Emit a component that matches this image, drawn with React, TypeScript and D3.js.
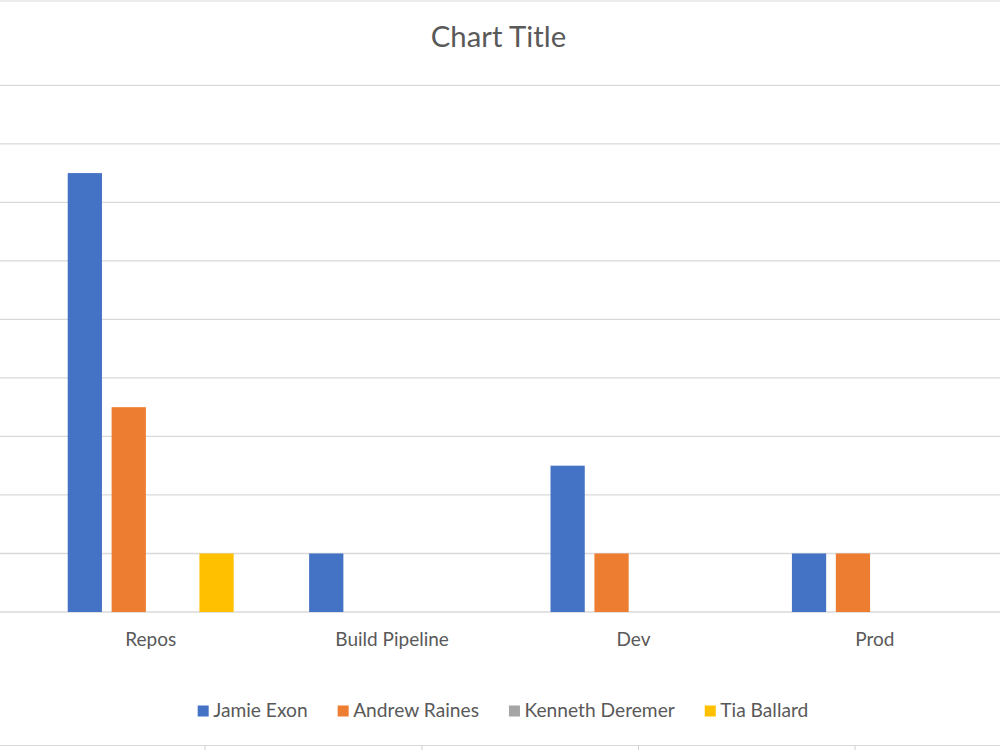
import { useEffect, useRef } from 'react';
import * as d3 from 'd3';

const categories = ['Repos', 'Build Pipeline', 'Dev', 'Prod'];
const seriesNames = ['Jamie Exon', 'Andrew Raines', 'Kenneth Deremer', 'Tia Ballard'];
const jamieExon = [7.5, 1, 2.5, 1];
const andrewRaines = [3.5, 0, 1, 1];
const kennethDeremer = [0, 0, 0, 0];
const tiaBallard = [1, 0, 0, 0];
const gridValues = [0, 1, 2, 3, 4, 5, 6, 7, 8, 9];
const seriesColors = ['#4472C4', '#ED7D31', '#A5A5A5', '#FFC000'];

const WIDTH = 1000;
const HEIGHT = 750;
const FONT = "Lato, 'Open Sans', sans-serif";
const TEXT_COLOR = '#595959';
const GRID_COLOR = '#D9D9D9';

export default function App() {
  const svgRef = useRef<SVGSVGElement>(null);

  useEffect(() => {
    if (!svgRef.current) return;
    const svg = d3.select(svgRef.current);
    svg.selectAll('*').remove();

    const seriesValues = [jamieExon, andrewRaines, kennethDeremer, tiaBallard];

    const x0 = d3
      .scaleBand<string>()
      .domain(categories)
      .range([30, 995.6])
      .paddingInner(0.3125)
      .paddingOuter(0.15625);

    const x1 = d3
      .scaleBand<string>()
      .domain(seriesNames)
      .range([0, x0.bandwidth()])
      .paddingInner(0.22);

    const y = d3.scaleLinear().domain([0, 9]).range([612, 85.3]);

    svg
      .append('rect')
      .attr('width', WIDTH)
      .attr('height', HEIGHT)
      .attr('fill', '#fff');

    // chart frame edges and the sheet cells below it
    svg
      .append('line')
      .attr('x1', 0)
      .attr('x2', WIDTH)
      .attr('y1', 1)
      .attr('y2', 1)
      .attr('stroke', GRID_COLOR)
      .attr('stroke-width', 1.2);
    svg
      .append('line')
      .attr('x1', 0)
      .attr('x2', WIDTH)
      .attr('y1', 745.5)
      .attr('y2', 745.5)
      .attr('stroke', GRID_COLOR)
      .attr('stroke-width', 1.2);
    svg
      .append('g')
      .selectAll('line')
      .data([205, 422, 638.5, 855])
      .join('line')
      .attr('x1', (d) => d)
      .attr('x2', (d) => d)
      .attr('y1', 746)
      .attr('y2', HEIGHT)
      .attr('stroke', '#D0D0D0');

    svg
      .append('text')
      .attr('x', 498.5)
      .attr('y', 47)
      .attr('text-anchor', 'middle')
      .attr('font-family', FONT)
      .attr('font-size', 29.3)
      .attr('fill', TEXT_COLOR)
      .text('Chart Title');

    svg
      .append('g')
      .selectAll('line')
      .data(gridValues)
      .join('line')
      .attr('x1', 0)
      .attr('x2', WIDTH)
      .attr('y1', (d) => y(d))
      .attr('y2', (d) => y(d))
      .attr('stroke', GRID_COLOR)
      .attr('stroke-width', 1.3);

    const groups = svg
      .append('g')
      .selectAll('g')
      .data(categories)
      .join('g')
      .attr('transform', (c) => `translate(${x0(c)},0)`);

    groups
      .selectAll('rect')
      .data((c, i) =>
        seriesNames.map((name, s) => ({ name, s, value: seriesValues[s][i] }))
      )
      .join('rect')
      .filter((d) => d.value > 0)
      .attr('x', (d) => x1(d.name) ?? 0)
      .attr('y', (d) => y(d.value))
      .attr('width', x1.bandwidth())
      .attr('height', (d) => y(0) - y(d.value))
      .attr('fill', (d) => seriesColors[d.s]);

    const xAxis = d3.axisBottom(x0).tickSize(0).tickPadding(0);
    svg
      .append('g')
      .attr('transform', 'translate(0,630)')
      .call(xAxis)
      .call((g) => {
        g.select('.domain').remove();
        g.selectAll('.tick text')
          .attr('dy', '0.82em')
          .attr('fill', TEXT_COLOR)
          .attr('font-size', 19)
          .attr('font-family', FONT);
      });

    // legend, laid out from measured text widths
    const legend = svg.append('g');
    const items = legend
      .selectAll('g')
      .data(seriesNames)
      .join('g');
    items
      .append('rect')
      .attr('y', 705.5)
      .attr('width', 11)
      .attr('height', 11)
      .attr('fill', (_, i) => seriesColors[i]);
    const labels = items
      .append('text')
      .attr('x', 15.5)
      .attr('y', 717)
      .attr('font-family', FONT)
      .attr('font-size', 19.2)
      .attr('fill', TEXT_COLOR)
      .text((d) => d);

    const widths: number[] = [];
    labels.each(function () {
      widths.push((this as SVGTextElement).getComputedTextLength());
    });
    const gap = 30;
    const itemWidths = widths.map((w) => 15.5 + w);
    const total = d3.sum(itemWidths) + gap * (itemWidths.length - 1);
    let cursor = 503 - total / 2;
    items.attr('transform', (_, i) => {
      const tx = cursor;
      cursor += itemWidths[i] + gap;
      return `translate(${tx},0)`;
    });
  }, []);

  return (
    <svg
      ref={svgRef}
      width={WIDTH}
      height={HEIGHT}
      viewBox={`0 0 ${WIDTH} ${HEIGHT}`}
      style={{ position: 'absolute', left: 0, top: 0 }}
    />
  );
}
